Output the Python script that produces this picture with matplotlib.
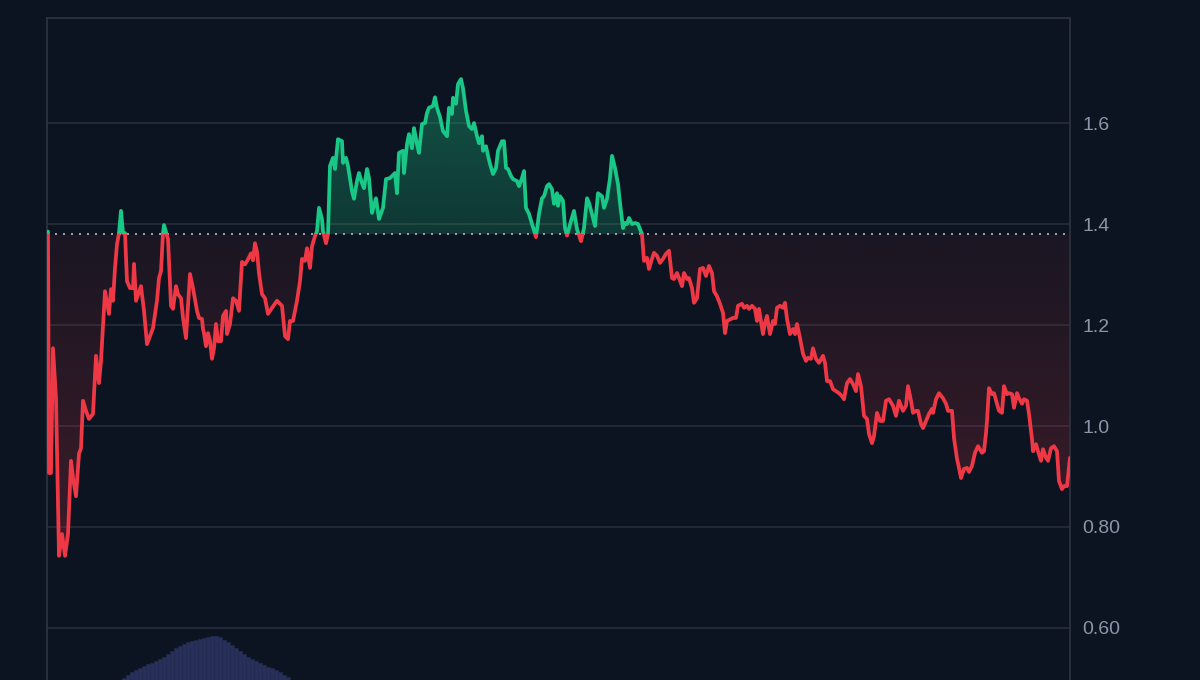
import numpy as np
import matplotlib
matplotlib.use("Agg")
import matplotlib.pyplot as plt
from matplotlib.patches import Rectangle
from matplotlib.path import Path

# ratio series (day counter, value)
day = [48, 49, 51, 53, 56, 59, 62, 65, 68, 71, 73, 76, 79, 81, 83, 86, 89, 93, 96, 99,
       101, 105, 109, 111, 113, 115, 117, 119, 121, 123, 125, 127, 130, 133, 134, 136, 141, 144, 147, 150,
       153, 157, 159, 161, 163, 164, 168, 171, 173, 176, 178, 181, 183, 186, 190, 193, 197, 199, 202, 203,
       204, 206, 208, 210, 212, 214, 216, 218, 221, 223, 226, 227, 230, 233, 236, 239, 242, 245, 248, 251,
       253, 255, 257, 259, 262, 265, 268, 272, 277, 282, 285, 288, 290, 293, 297, 300, 302, 305, 307, 310,
       312, 315, 317, 319, 322, 323, 326, 328, 330, 333, 335, 337, 338, 342, 343, 346, 348, 352, 354, 357,
       359, 362, 364, 367, 369, 372, 376, 379, 383, 386, 390, 395, 397, 399, 403, 404, 407, 409, 412, 414,
       417, 419, 422, 425, 427, 429, 433, 435, 437, 440, 443, 447, 449, 452, 453, 456, 458, 461, 463, 466,
       469, 472, 474, 477, 479, 482, 483, 486, 488, 490, 493, 496, 498, 502, 504, 506, 508, 511, 513, 517,
       519, 522, 524, 526, 529, 532, 536, 539, 542, 544, 547, 549, 552, 554, 557, 558, 560, 563, 565, 567,
       571, 574, 577, 581, 584, 587, 589, 593, 595, 598, 602, 604, 607, 610, 612, 615, 618, 620, 623, 625,
       627, 629, 632, 635, 638, 642, 644, 647, 649, 652, 654, 657, 660, 663, 666, 669, 672, 674, 677, 679,
       682, 684, 687, 689, 692, 694, 697, 700, 703, 706, 709, 712, 714, 717, 720, 723, 725, 727, 731, 733,
       736, 738, 742, 744, 747, 749, 752, 755, 757, 759, 763, 765, 767, 770, 773, 775, 777, 780, 783, 785,
       787, 790, 793, 795, 797, 800, 803, 806, 808, 811, 813, 816, 819, 823, 825, 827, 830, 833, 836, 839,
       842, 844, 847, 850, 853, 856, 858, 861, 864, 867, 869, 872, 874, 877, 880, 883, 886, 889, 893, 896,
       899, 903, 906, 908, 911, 913, 916, 918, 921, 923, 926, 929, 932, 933, 936, 939, 943, 946, 948, 952,
       954, 957, 959, 961, 964, 967, 969, 972, 975, 978, 982, 984, 986, 987, 989, 992, 994, 997, 999, 1002,
       1004, 1007, 1009, 1012, 1014, 1017, 1019, 1022, 1024, 1027, 1029, 1032, 1033, 1036, 1038, 1041, 1043, 1046, 1048, 1051,
       1054, 1057, 1059, 1062, 1064, 1067, 1070]
ratio = [1.385, 0.907, 0.907, 1.154, 1.055, 0.743, 0.786, 0.743, 0.786, 0.931, 0.897, 0.861, 0.945, 0.956, 1.050, 1.030, 1.014, 1.024, 1.139, 1.085,
         1.129, 1.267, 1.222, 1.271, 1.248, 1.313, 1.360, 1.382, 1.426, 1.382, 1.382, 1.287, 1.273, 1.273, 1.321, 1.248, 1.277, 1.228, 1.162, 1.178,
         1.194, 1.248, 1.293, 1.307, 1.382, 1.398, 1.370, 1.238, 1.232, 1.277, 1.261, 1.253, 1.214, 1.174, 1.301, 1.273, 1.228, 1.214, 1.212, 1.192,
         1.184, 1.158, 1.184, 1.168, 1.133, 1.154, 1.202, 1.168, 1.168, 1.218, 1.228, 1.182, 1.202, 1.253, 1.248, 1.228, 1.325, 1.320, 1.330, 1.342,
         1.328, 1.362, 1.345, 1.303, 1.261, 1.253, 1.222, 1.234, 1.248, 1.238, 1.178, 1.172, 1.208, 1.208, 1.248, 1.287, 1.331, 1.327, 1.352, 1.313,
         1.356, 1.376, 1.386, 1.432, 1.410, 1.386, 1.362, 1.380, 1.515, 1.531, 1.509, 1.549, 1.568, 1.564, 1.521, 1.531, 1.515, 1.465, 1.450, 1.485,
         1.501, 1.481, 1.471, 1.509, 1.491, 1.422, 1.451, 1.410, 1.432, 1.489, 1.491, 1.501, 1.461, 1.541, 1.545, 1.501, 1.558, 1.578, 1.550, 1.590,
         1.558, 1.541, 1.598, 1.600, 1.620, 1.630, 1.634, 1.651, 1.630, 1.612, 1.584, 1.574, 1.630, 1.618, 1.650, 1.638, 1.677, 1.687, 1.669, 1.624,
         1.594, 1.588, 1.600, 1.574, 1.560, 1.574, 1.545, 1.554, 1.535, 1.519, 1.499, 1.511, 1.545, 1.564, 1.564, 1.511, 1.509, 1.495, 1.489, 1.485,
         1.475, 1.491, 1.505, 1.432, 1.420, 1.400, 1.374, 1.420, 1.451, 1.455, 1.475, 1.479, 1.469, 1.440, 1.461, 1.436, 1.455, 1.446, 1.392, 1.377,
         1.406, 1.426, 1.390, 1.366, 1.392, 1.451, 1.442, 1.412, 1.396, 1.461, 1.455, 1.432, 1.450, 1.491, 1.535, 1.511, 1.479, 1.442, 1.392, 1.402,
         1.400, 1.412, 1.400, 1.402, 1.400, 1.380, 1.327, 1.333, 1.311, 1.331, 1.343, 1.337, 1.323, 1.331, 1.341, 1.347, 1.293, 1.291, 1.303, 1.293,
         1.277, 1.303, 1.291, 1.293, 1.273, 1.244, 1.253, 1.311, 1.313, 1.297, 1.317, 1.303, 1.267, 1.257, 1.242, 1.224, 1.184, 1.208, 1.212, 1.214,
         1.214, 1.238, 1.242, 1.234, 1.238, 1.232, 1.238, 1.232, 1.208, 1.232, 1.182, 1.204, 1.218, 1.182, 1.208, 1.202, 1.234, 1.238, 1.234, 1.244,
         1.212, 1.182, 1.192, 1.182, 1.202, 1.174, 1.143, 1.129, 1.135, 1.133, 1.154, 1.133, 1.125, 1.139, 1.125, 1.089, 1.089, 1.073, 1.069, 1.065,
         1.059, 1.053, 1.085, 1.093, 1.083, 1.069, 1.103, 1.079, 1.020, 1.014, 0.984, 0.966, 0.980, 1.026, 1.010, 1.010, 1.050, 1.053, 1.040, 1.020,
         1.050, 1.030, 1.040, 1.079, 1.050, 1.026, 1.030, 1.030, 1.004, 0.996, 1.010, 1.024, 1.034, 1.026, 1.053, 1.065, 1.055, 1.044, 1.030, 1.030,
         0.976, 0.935, 0.917, 0.897, 0.915, 0.917, 0.909, 0.921, 0.947, 0.960, 0.947, 0.950, 0.986, 1.010, 1.075, 1.063, 1.065, 1.044, 1.030, 1.026,
         1.079, 1.063, 1.065, 1.063, 1.036, 1.065, 1.055, 1.044, 1.053, 1.050, 1.024, 0.974, 0.950, 0.964, 0.950, 0.931, 0.954, 0.937, 0.931, 0.956,
         0.960, 0.950, 0.891, 0.875, 0.881, 0.881, 0.937]
base = 1.38

# volume histogram (bottom left)
vol_day = [122, 126, 130, 134, 138, 142, 146, 150, 154, 158, 162, 166, 170, 174, 178, 182, 186, 190, 194, 198,
           202, 206, 210, 214, 218, 222, 226, 230, 234, 238, 242, 246, 250, 254, 258, 262, 266, 270, 274, 278,
           282, 286]
vol = [2, 5, 8, 10, 12, 14, 16, 17, 19, 21, 23, 26, 29, 32, 34, 36, 38, 39, 40, 41,
       42, 43, 44, 44, 43, 40, 38, 35, 32, 29, 26, 23, 21, 19, 17, 15, 13, 12, 10, 8,
       5, 3]

yticks = [0.6, 0.8, 1.0, 1.2, 1.4, 1.6]
ytick_labels = ['0.60', '0.80', '1.0', '1.2', '1.4', '1.6']

BG = '#0d1421'
GRID = '#272d39'
BORDER = '#2c323e'
GREEN = '#19c786'
RED = '#ef3845'
TXT = '#8c95a8'

plt.rcParams['font.family'] = ['Liberation Sans', 'DejaVu Sans']

fig = plt.figure(figsize=(12, 6.8), dpi=100, facecolor=BG)
ax = fig.add_axes([47 / 1200, 0, 1023 / 1200, 662 / 680])
ax.set_facecolor(BG)
x0, x1 = 47, 1070
y0, y1 = 0.497, 1.808

d = np.array(day, dtype=float)
v = np.array(ratio)

# volume bars on their own scale
axv = ax.twinx()
axv.bar(vol_day, vol, width=4.0, color='#27305a', edgecolor='#232b50', linewidth=0.4, align='edge')
axv.set_ylim(0, max(vol) * 15)
axv.set_yticks([])
for s in axv.spines.values():
    s.set_visible(False)

# gradient fills (baseline style)
up = ax.fill_between(d, v, base, where=v >= base, interpolate=True, color='none', lw=0)
dn = ax.fill_between(d, v, base, where=v <= base, interpolate=True, color='none', lw=0)

def gradient(color, a_top, a_bot, ext, coll):
    rgba = np.zeros((256, 1, 4))
    rgba[..., :3] = matplotlib.colors.to_rgb(color)
    rgba[:, 0, 3] = np.linspace(a_top, a_bot, 256)
    im = ax.imshow(rgba, extent=ext, origin='upper', aspect='auto', zorder=1, interpolation='bilinear')
    path = Path.make_compound_path(*coll.get_paths())
    im.set_clip_path(path, transform=ax.transData)

gradient(GREEN, 0.42, 0.20, [x0, x1, base, y1], up)
gradient(RED, 0.06, 0.28, [x0, x1, y0, base], dn)

# line, coloured above / below the baseline
lg, = ax.plot(d, v, color=GREEN, lw=2.7, zorder=3, solid_joinstyle='round', solid_capstyle='round')
lg.set_clip_path(Rectangle((x0, base), x1 - x0, y1 - base, transform=ax.transData))
lr, = ax.plot(d, v, color=RED, lw=2.7, zorder=3, solid_joinstyle='round', solid_capstyle='round')
lr.set_clip_path(Rectangle((x0, y0), x1 - x0, base - y0, transform=ax.transData))

ax.axhline(base, color='#9da2aa', lw=1.44, ls=(0, (1, 3)), dash_capstyle='butt', zorder=2.5)

ax.set_xlim(x0, x1)
ax.set_ylim(y0, y1)
ax.set_xticks([])
ax.set_yticks(yticks)
ax.set_yticklabels(ytick_labels)
ax.yaxis.tick_right()
ax.tick_params(axis='y', length=0, pad=9.0, labelsize=14, labelcolor=TXT)
ax.yaxis.grid(True, color=GRID, lw=1.2)
ax.set_axisbelow(True)

for k in ['top', 'left', 'right']:
    ax.spines[k].set_color(BORDER)
    ax.spines[k].set_linewidth(1.3)
ax.spines['bottom'].set_visible(False)

fig.savefig('out.png', dpi=100, facecolor=BG)
